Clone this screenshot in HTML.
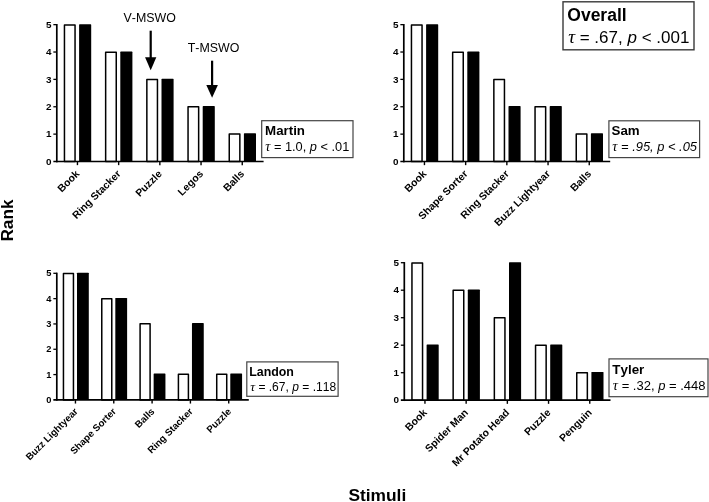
<!DOCTYPE html>
<html><head><meta charset="utf-8"><title>Rank by Stimuli</title>
<style>html,body{margin:0;padding:0;background:#fff;overflow:hidden}svg{display:block}text{fill:#000;font-kerning:none}</style>
</head><body>
<svg width="709" height="502" viewBox="0 0 709 502">
<rect width="709" height="502" fill="#fff"/>
<rect x="64.45" y="25.10" width="10.60" height="136.40" fill="#fff" stroke="#000" stroke-width="1.5" stroke-linejoin="round"/>
<rect x="79.10" y="24.35" width="12.10" height="137.15" rx="0.6" fill="#000"/>
<rect x="105.65" y="52.35" width="10.60" height="109.15" fill="#fff" stroke="#000" stroke-width="1.5" stroke-linejoin="round"/>
<rect x="120.30" y="51.60" width="12.10" height="109.90" rx="0.6" fill="#000"/>
<rect x="146.85" y="79.60" width="10.60" height="81.90" fill="#fff" stroke="#000" stroke-width="1.5" stroke-linejoin="round"/>
<rect x="161.50" y="78.85" width="12.10" height="82.65" rx="0.6" fill="#000"/>
<rect x="188.05" y="106.85" width="10.60" height="54.65" fill="#fff" stroke="#000" stroke-width="1.5" stroke-linejoin="round"/>
<rect x="202.70" y="106.10" width="12.10" height="55.40" rx="0.6" fill="#000"/>
<rect x="229.25" y="134.10" width="10.60" height="27.40" fill="#fff" stroke="#000" stroke-width="1.5" stroke-linejoin="round"/>
<rect x="243.90" y="133.35" width="12.10" height="28.15" rx="0.6" fill="#000"/>
<path d="M56.80 24.00V162.35" stroke="#000" stroke-width="1.7" fill="none"/>
<path d="M53.35 161.50H263.60" stroke="#000" stroke-width="1.7" fill="none"/>
<text x="51.40" y="164.64" font-size="9.9" font-weight="bold" text-anchor="end" font-family="Liberation Sans, Arial, sans-serif">0</text>
<path d="M53.35 134.13H56.80" stroke="#000" stroke-width="1.3" fill="none"/>
<text x="51.40" y="137.27" font-size="9.9" font-weight="bold" text-anchor="end" font-family="Liberation Sans, Arial, sans-serif">1</text>
<path d="M53.35 106.76H56.80" stroke="#000" stroke-width="1.3" fill="none"/>
<text x="51.40" y="109.90" font-size="9.9" font-weight="bold" text-anchor="end" font-family="Liberation Sans, Arial, sans-serif">2</text>
<path d="M53.35 79.39H56.80" stroke="#000" stroke-width="1.3" fill="none"/>
<text x="51.40" y="82.53" font-size="9.9" font-weight="bold" text-anchor="end" font-family="Liberation Sans, Arial, sans-serif">3</text>
<path d="M53.35 52.02H56.80" stroke="#000" stroke-width="1.3" fill="none"/>
<text x="51.40" y="55.16" font-size="9.9" font-weight="bold" text-anchor="end" font-family="Liberation Sans, Arial, sans-serif">4</text>
<path d="M53.35 24.65H56.80" stroke="#000" stroke-width="1.3" fill="none"/>
<text x="51.40" y="27.79" font-size="9.9" font-weight="bold" text-anchor="end" font-family="Liberation Sans, Arial, sans-serif">5</text>
<path d="M77.45 161.50V165.15" stroke="#000" stroke-width="1.4" fill="none"/>
<text transform="translate(80.15 174.50) rotate(-45)" font-size="10.4" font-weight="bold" text-anchor="end" font-family="Liberation Sans, Arial, sans-serif">Book</text>
<path d="M118.65 161.50V165.15" stroke="#000" stroke-width="1.4" fill="none"/>
<text transform="translate(121.35 174.50) rotate(-45)" font-size="10.4" font-weight="bold" text-anchor="end" font-family="Liberation Sans, Arial, sans-serif">Ring Stacker</text>
<path d="M159.85 161.50V165.15" stroke="#000" stroke-width="1.4" fill="none"/>
<text transform="translate(162.55 174.50) rotate(-45)" font-size="10.4" font-weight="bold" text-anchor="end" font-family="Liberation Sans, Arial, sans-serif">Puzzle</text>
<path d="M201.05 161.50V165.15" stroke="#000" stroke-width="1.4" fill="none"/>
<text transform="translate(203.75 174.50) rotate(-45)" font-size="10.4" font-weight="bold" text-anchor="end" font-family="Liberation Sans, Arial, sans-serif">Legos</text>
<path d="M242.25 161.50V165.15" stroke="#000" stroke-width="1.4" fill="none"/>
<text transform="translate(244.95 174.50) rotate(-45)" font-size="10.4" font-weight="bold" text-anchor="end" font-family="Liberation Sans, Arial, sans-serif">Balls</text>
<rect x="411.45" y="25.10" width="10.60" height="136.40" fill="#fff" stroke="#000" stroke-width="1.5" stroke-linejoin="round"/>
<rect x="426.10" y="24.35" width="12.10" height="137.15" rx="0.6" fill="#000"/>
<rect x="452.65" y="52.35" width="10.60" height="109.15" fill="#fff" stroke="#000" stroke-width="1.5" stroke-linejoin="round"/>
<rect x="467.30" y="51.60" width="12.10" height="109.90" rx="0.6" fill="#000"/>
<rect x="493.85" y="79.60" width="10.60" height="81.90" fill="#fff" stroke="#000" stroke-width="1.5" stroke-linejoin="round"/>
<rect x="508.50" y="106.10" width="12.10" height="55.40" rx="0.6" fill="#000"/>
<rect x="535.05" y="106.85" width="10.60" height="54.65" fill="#fff" stroke="#000" stroke-width="1.5" stroke-linejoin="round"/>
<rect x="549.70" y="106.10" width="12.10" height="55.40" rx="0.6" fill="#000"/>
<rect x="576.25" y="134.10" width="10.60" height="27.40" fill="#fff" stroke="#000" stroke-width="1.5" stroke-linejoin="round"/>
<rect x="590.90" y="133.35" width="12.10" height="28.15" rx="0.6" fill="#000"/>
<path d="M403.80 24.00V162.35" stroke="#000" stroke-width="1.7" fill="none"/>
<path d="M400.35 161.50H610.20" stroke="#000" stroke-width="1.7" fill="none"/>
<text x="398.40" y="164.64" font-size="9.9" font-weight="bold" text-anchor="end" font-family="Liberation Sans, Arial, sans-serif">0</text>
<path d="M400.35 134.13H403.80" stroke="#000" stroke-width="1.3" fill="none"/>
<text x="398.40" y="137.27" font-size="9.9" font-weight="bold" text-anchor="end" font-family="Liberation Sans, Arial, sans-serif">1</text>
<path d="M400.35 106.76H403.80" stroke="#000" stroke-width="1.3" fill="none"/>
<text x="398.40" y="109.90" font-size="9.9" font-weight="bold" text-anchor="end" font-family="Liberation Sans, Arial, sans-serif">2</text>
<path d="M400.35 79.39H403.80" stroke="#000" stroke-width="1.3" fill="none"/>
<text x="398.40" y="82.53" font-size="9.9" font-weight="bold" text-anchor="end" font-family="Liberation Sans, Arial, sans-serif">3</text>
<path d="M400.35 52.02H403.80" stroke="#000" stroke-width="1.3" fill="none"/>
<text x="398.40" y="55.16" font-size="9.9" font-weight="bold" text-anchor="end" font-family="Liberation Sans, Arial, sans-serif">4</text>
<path d="M400.35 24.65H403.80" stroke="#000" stroke-width="1.3" fill="none"/>
<text x="398.40" y="27.79" font-size="9.9" font-weight="bold" text-anchor="end" font-family="Liberation Sans, Arial, sans-serif">5</text>
<path d="M424.45 161.50V165.15" stroke="#000" stroke-width="1.4" fill="none"/>
<text transform="translate(427.15 174.50) rotate(-45)" font-size="10.4" font-weight="bold" text-anchor="end" font-family="Liberation Sans, Arial, sans-serif">Book</text>
<path d="M465.65 161.50V165.15" stroke="#000" stroke-width="1.4" fill="none"/>
<text transform="translate(468.35 174.50) rotate(-45)" font-size="10.4" font-weight="bold" text-anchor="end" font-family="Liberation Sans, Arial, sans-serif">Shape Sorter</text>
<path d="M506.85 161.50V165.15" stroke="#000" stroke-width="1.4" fill="none"/>
<text transform="translate(509.55 174.50) rotate(-45)" font-size="10.4" font-weight="bold" text-anchor="end" font-family="Liberation Sans, Arial, sans-serif">Ring Stacker</text>
<path d="M548.05 161.50V165.15" stroke="#000" stroke-width="1.4" fill="none"/>
<text transform="translate(550.75 174.50) rotate(-45)" font-size="10.4" font-weight="bold" text-anchor="end" font-family="Liberation Sans, Arial, sans-serif">Buzz Lightyear</text>
<path d="M589.25 161.50V165.15" stroke="#000" stroke-width="1.4" fill="none"/>
<text transform="translate(591.95 174.50) rotate(-45)" font-size="10.4" font-weight="bold" text-anchor="end" font-family="Liberation Sans, Arial, sans-serif">Balls</text>
<rect x="63.45" y="273.45" width="10.00" height="126.45" fill="#fff" stroke="#000" stroke-width="1.5" stroke-linejoin="round"/>
<rect x="77.00" y="272.70" width="11.80" height="127.20" rx="0.6" fill="#000"/>
<rect x="101.77" y="298.65" width="10.00" height="101.25" fill="#fff" stroke="#000" stroke-width="1.5" stroke-linejoin="round"/>
<rect x="115.32" y="297.90" width="11.80" height="102.00" rx="0.6" fill="#000"/>
<rect x="140.09" y="323.85" width="10.00" height="76.05" fill="#fff" stroke="#000" stroke-width="1.5" stroke-linejoin="round"/>
<rect x="153.64" y="373.50" width="11.80" height="26.40" rx="0.6" fill="#000"/>
<rect x="178.41" y="374.25" width="10.00" height="25.65" fill="#fff" stroke="#000" stroke-width="1.5" stroke-linejoin="round"/>
<rect x="191.96" y="323.10" width="11.80" height="76.80" rx="0.6" fill="#000"/>
<rect x="216.73" y="374.25" width="10.00" height="25.65" fill="#fff" stroke="#000" stroke-width="1.5" stroke-linejoin="round"/>
<rect x="230.28" y="373.50" width="11.80" height="26.40" rx="0.6" fill="#000"/>
<path d="M56.80 272.65V400.75" stroke="#000" stroke-width="1.7" fill="none"/>
<path d="M53.35 399.90H248.80" stroke="#000" stroke-width="1.7" fill="none"/>
<text x="51.40" y="402.83" font-size="9.3" font-weight="bold" text-anchor="end" font-family="Liberation Sans, Arial, sans-serif">0</text>
<path d="M53.35 374.58H56.80" stroke="#000" stroke-width="1.3" fill="none"/>
<text x="51.40" y="377.51" font-size="9.3" font-weight="bold" text-anchor="end" font-family="Liberation Sans, Arial, sans-serif">1</text>
<path d="M53.35 349.26H56.80" stroke="#000" stroke-width="1.3" fill="none"/>
<text x="51.40" y="352.19" font-size="9.3" font-weight="bold" text-anchor="end" font-family="Liberation Sans, Arial, sans-serif">2</text>
<path d="M53.35 323.94H56.80" stroke="#000" stroke-width="1.3" fill="none"/>
<text x="51.40" y="326.87" font-size="9.3" font-weight="bold" text-anchor="end" font-family="Liberation Sans, Arial, sans-serif">3</text>
<path d="M53.35 298.62H56.80" stroke="#000" stroke-width="1.3" fill="none"/>
<text x="51.40" y="301.55" font-size="9.3" font-weight="bold" text-anchor="end" font-family="Liberation Sans, Arial, sans-serif">4</text>
<path d="M53.35 273.30H56.80" stroke="#000" stroke-width="1.3" fill="none"/>
<text x="51.40" y="276.23" font-size="9.3" font-weight="bold" text-anchor="end" font-family="Liberation Sans, Arial, sans-serif">5</text>
<path d="M75.45 399.90V403.55" stroke="#000" stroke-width="1.4" fill="none"/>
<text transform="translate(78.45 412.10) rotate(-45)" font-size="9.7" font-weight="bold" text-anchor="end" font-family="Liberation Sans, Arial, sans-serif">Buzz Lightyear</text>
<path d="M113.77 399.90V403.55" stroke="#000" stroke-width="1.4" fill="none"/>
<text transform="translate(116.77 412.10) rotate(-45)" font-size="9.7" font-weight="bold" text-anchor="end" font-family="Liberation Sans, Arial, sans-serif">Shape Sorter</text>
<path d="M152.09 399.90V403.55" stroke="#000" stroke-width="1.4" fill="none"/>
<text transform="translate(155.09 412.10) rotate(-45)" font-size="9.7" font-weight="bold" text-anchor="end" font-family="Liberation Sans, Arial, sans-serif">Balls</text>
<path d="M190.41 399.90V403.55" stroke="#000" stroke-width="1.4" fill="none"/>
<text transform="translate(193.41 412.10) rotate(-45)" font-size="9.7" font-weight="bold" text-anchor="end" font-family="Liberation Sans, Arial, sans-serif">Ring Stacker</text>
<path d="M228.73 399.90V403.55" stroke="#000" stroke-width="1.4" fill="none"/>
<text transform="translate(231.73 412.10) rotate(-45)" font-size="9.7" font-weight="bold" text-anchor="end" font-family="Liberation Sans, Arial, sans-serif">Puzzle</text>
<rect x="411.95" y="262.95" width="10.60" height="137.25" fill="#fff" stroke="#000" stroke-width="1.5" stroke-linejoin="round"/>
<rect x="426.60" y="344.46" width="12.10" height="55.74" rx="0.6" fill="#000"/>
<rect x="453.15" y="290.37" width="10.60" height="109.83" fill="#fff" stroke="#000" stroke-width="1.5" stroke-linejoin="round"/>
<rect x="467.80" y="289.62" width="12.10" height="110.58" rx="0.6" fill="#000"/>
<rect x="494.35" y="317.79" width="10.60" height="82.41" fill="#fff" stroke="#000" stroke-width="1.5" stroke-linejoin="round"/>
<rect x="509.00" y="262.20" width="12.10" height="138.00" rx="0.6" fill="#000"/>
<rect x="535.55" y="345.21" width="10.60" height="54.99" fill="#fff" stroke="#000" stroke-width="1.5" stroke-linejoin="round"/>
<rect x="550.20" y="344.46" width="12.10" height="55.74" rx="0.6" fill="#000"/>
<rect x="576.75" y="372.63" width="10.60" height="27.57" fill="#fff" stroke="#000" stroke-width="1.5" stroke-linejoin="round"/>
<rect x="591.40" y="371.88" width="12.10" height="28.32" rx="0.6" fill="#000"/>
<path d="M404.30 262.05V401.05" stroke="#000" stroke-width="1.7" fill="none"/>
<path d="M400.85 400.20H610.50" stroke="#000" stroke-width="1.7" fill="none"/>
<text x="398.90" y="403.34" font-size="9.9" font-weight="bold" text-anchor="end" font-family="Liberation Sans, Arial, sans-serif">0</text>
<path d="M400.85 372.70H404.30" stroke="#000" stroke-width="1.3" fill="none"/>
<text x="398.90" y="375.84" font-size="9.9" font-weight="bold" text-anchor="end" font-family="Liberation Sans, Arial, sans-serif">1</text>
<path d="M400.85 345.20H404.30" stroke="#000" stroke-width="1.3" fill="none"/>
<text x="398.90" y="348.34" font-size="9.9" font-weight="bold" text-anchor="end" font-family="Liberation Sans, Arial, sans-serif">2</text>
<path d="M400.85 317.70H404.30" stroke="#000" stroke-width="1.3" fill="none"/>
<text x="398.90" y="320.84" font-size="9.9" font-weight="bold" text-anchor="end" font-family="Liberation Sans, Arial, sans-serif">3</text>
<path d="M400.85 290.20H404.30" stroke="#000" stroke-width="1.3" fill="none"/>
<text x="398.90" y="293.34" font-size="9.9" font-weight="bold" text-anchor="end" font-family="Liberation Sans, Arial, sans-serif">4</text>
<path d="M400.85 262.70H404.30" stroke="#000" stroke-width="1.3" fill="none"/>
<text x="398.90" y="265.84" font-size="9.9" font-weight="bold" text-anchor="end" font-family="Liberation Sans, Arial, sans-serif">5</text>
<path d="M424.95 400.20V403.85" stroke="#000" stroke-width="1.4" fill="none"/>
<text transform="translate(427.65 413.20) rotate(-45)" font-size="10.4" font-weight="bold" text-anchor="end" font-family="Liberation Sans, Arial, sans-serif">Book</text>
<path d="M466.15 400.20V403.85" stroke="#000" stroke-width="1.4" fill="none"/>
<text transform="translate(468.85 413.20) rotate(-45)" font-size="10.4" font-weight="bold" text-anchor="end" font-family="Liberation Sans, Arial, sans-serif">Spider Man</text>
<path d="M507.35 400.20V403.85" stroke="#000" stroke-width="1.4" fill="none"/>
<text transform="translate(510.05 413.20) rotate(-45)" font-size="10.4" font-weight="bold" text-anchor="end" font-family="Liberation Sans, Arial, sans-serif">Mr Potato Head</text>
<path d="M548.55 400.20V403.85" stroke="#000" stroke-width="1.4" fill="none"/>
<text transform="translate(551.25 413.20) rotate(-45)" font-size="10.4" font-weight="bold" text-anchor="end" font-family="Liberation Sans, Arial, sans-serif">Puzzle</text>
<path d="M589.75 400.20V403.85" stroke="#000" stroke-width="1.4" fill="none"/>
<text transform="translate(592.45 413.20) rotate(-45)" font-size="10.4" font-weight="bold" text-anchor="end" font-family="Liberation Sans, Arial, sans-serif">Penguin</text>
<rect x="261.70" y="120.70" width="91.30" height="36.90" fill="#fff" stroke="#444" stroke-width="1.2"/>
<text x="265.1" y="135.4" font-size="13.3" font-weight="bold" font-family="Liberation Sans, Arial, sans-serif">Martin</text>
<text x="265.2" y="151" font-size="12.8" font-family="Liberation Sans, Arial, sans-serif"><tspan font-family="Liberation Serif, serif" font-style="italic" font-size="14.34">τ</tspan> = 1.0, <tspan font-style='italic'>p</tspan> &lt; .01</text>
<rect x="608.90" y="120.80" width="90.70" height="36.80" fill="#fff" stroke="#444" stroke-width="1.2"/>
<text x="611.6" y="135.4" font-size="13.3" font-weight="bold" font-family="Liberation Sans, Arial, sans-serif">Sam</text>
<text x="612.3" y="151.4" font-size="12.9" font-style="italic" font-family="Liberation Sans, Arial, sans-serif"><tspan font-family="Liberation Serif, serif" font-style="italic" font-size="14.45">τ</tspan> = .95, p &lt; .05</text>
<rect x="246.80" y="361.90" width="91.30" height="34.40" fill="#fff" stroke="#444" stroke-width="1.2"/>
<text x="249.2" y="376.2" font-size="12.4" font-weight="bold" font-family="Liberation Sans, Arial, sans-serif">Landon</text>
<text x="250.2" y="391.0" font-size="12.05" font-family="Liberation Sans, Arial, sans-serif"><tspan font-family="Liberation Serif, serif" font-style="italic" font-size="13.50">τ</tspan> = .67, <tspan font-style='italic'>p</tspan> = .118</text>
<rect x="609.00" y="358.90" width="99.00" height="37.80" fill="#fff" stroke="#444" stroke-width="1.2"/>
<text x="612.3" y="374" font-size="13.4" font-weight="bold" font-family="Liberation Sans, Arial, sans-serif">Tyler</text>
<text x="612.8" y="390.3" font-size="13.0" font-family="Liberation Sans, Arial, sans-serif"><tspan font-family="Liberation Serif, serif" font-style="italic" font-size="14.56">τ</tspan> = .32, <tspan font-style='italic'>p</tspan> = .448</text>
<rect x="563.00" y="1.80" width="131.00" height="48.00" fill="#fff" stroke="#3a3a3a" stroke-width="1.4"/>
<text x="567.3" y="21.3" font-size="17.5" font-weight="bold" font-family="Liberation Sans, Arial, sans-serif">Overall</text>
<text x="568.2" y="42.6" font-size="17.0" font-family="Liberation Sans, Arial, sans-serif"><tspan font-family="Liberation Serif, serif" font-style="italic" font-size="19.04">τ</tspan> = .67, <tspan font-style='italic'>p</tspan> &lt; .001</text>
<text x="123.6" y="21.8" font-size="12.4" font-family="Liberation Sans, Arial, sans-serif">V-MSWO</text>
<path d="M150.7 30.7V58.3" stroke="#000" stroke-width="2.2" fill="none"/>
<path d="M145.04999999999998 57.3H156.35L150.7 70.2Z" fill="#000"/>
<text x="187.8" y="52.4" font-size="12.4" font-family="Liberation Sans, Arial, sans-serif">T-MSWO</text>
<path d="M212.1 60.7V86" stroke="#000" stroke-width="2.2" fill="none"/>
<path d="M206.29999999999998 85H217.9L212.1 97.8Z" fill="#000"/>
<text transform="translate(12.7 241.6) rotate(-90)" font-size="17.25" font-weight="bold" font-family="Liberation Sans, Arial, sans-serif">Rank</text>
<text x="348.4" y="500.7" font-size="17.35" font-weight="bold" font-family="Liberation Sans, Arial, sans-serif">Stimuli</text>
</svg>
</body></html>
